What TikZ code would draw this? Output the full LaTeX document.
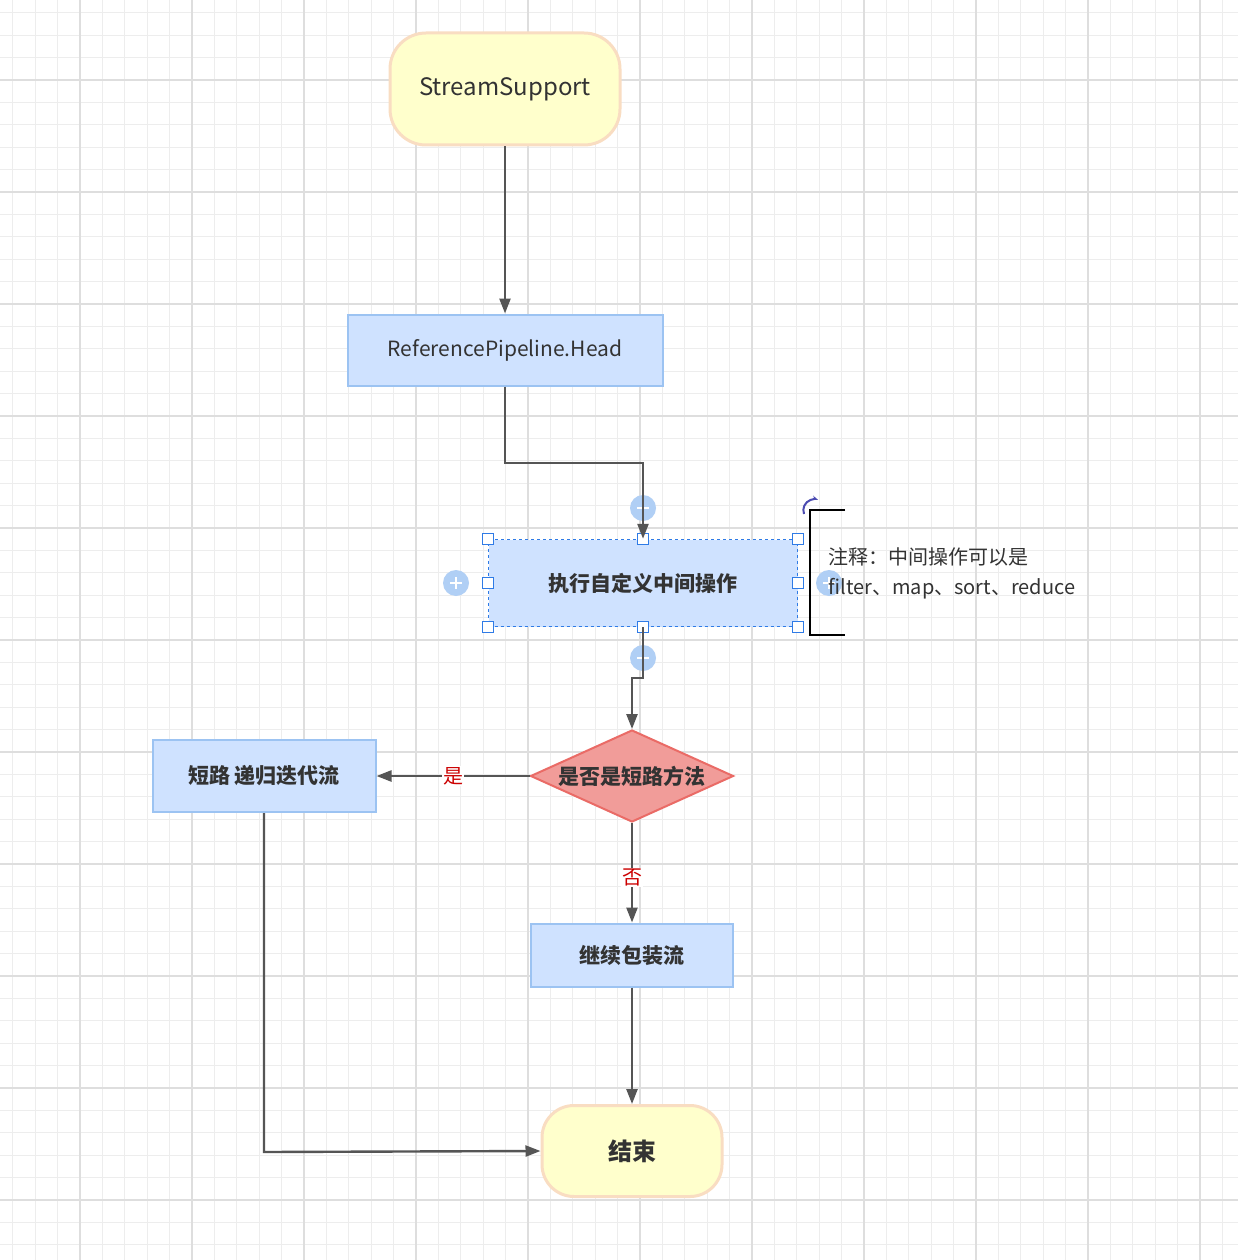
\documentclass[tikz,border=0pt]{standalone}
\usepackage{fontspec}
\setmainfont{Noto Sans CJK SC}
\usetikzlibrary{shapes.geometric,arrows.meta}
\definecolor{gridc}{HTML}{EDEDED}
\definecolor{gridm}{HTML}{DEDEDE}
\definecolor{yel}{HTML}{FFFFCC}
\definecolor{yelb}{HTML}{F9DDC2}
\definecolor{blu}{HTML}{CFE2FF}
\definecolor{blub}{HTML}{9CC3F2}
\definecolor{redf}{HTML}{F19C99}
\definecolor{redb}{HTML}{EA6B66}
\definecolor{edge}{HTML}{555555}
\definecolor{sel}{HTML}{2F7BE6}
\definecolor{txt}{HTML}{333333}
\begin{document}
\begin{tikzpicture}[x=1pt,y=-1pt,
 term/.style={draw=yelb,line width=3pt,fill=yel,rounded corners=36pt,text=txt,font=\fontsize{24}{28}\selectfont\bfseries},
 box/.style={draw=blub,line width=2pt,fill=blu,text=txt,font=\fontsize{21}{25}\selectfont\bfseries},
 conn/.style={draw=edge,line width=2.4pt,-{Triangle[length=15pt,width=11pt]}},
 handle/.style={draw=sel,fill=white,line width=1.2pt,minimum size=11pt,inner sep=0pt},
 plus/.style={circle,fill=blub!80,minimum size=26pt,inner sep=0pt,path picture={\draw[white,line width=1.5pt] (path picture bounding box.center) ++(-6pt,0) -- ++(12pt,0) (path picture bounding box.center) ++(0,-6pt) -- ++(0,12pt);}},
 lab/.style={fill=white,text=red!80!black,inner sep=1pt,font=\fontsize{20}{24}\selectfont}]
\useasboundingbox (0,0) rectangle (1238,1260);
\fill[white] (0,0) rectangle (1238,1260);
\foreach \i in {0,...,56}{\draw[gridc,line width=0.8pt] (\i*22.4-32,0) -- (\i*22.4-32,1260);}
\foreach \i in {0,...,57}{\draw[gridc,line width=0.8pt] (0,\i*22.4-32) -- (1238,\i*22.4-32);}
\foreach \i in {0,...,11}{\draw[gridm,line width=1.2pt] (\i*112+80,0) -- (\i*112+80,1260);
 \draw[gridm,line width=1.2pt] (0,\i*112+80) -- (1238,\i*112+80);}
\node[term,minimum width=230pt,minimum height=112pt,font=\fontsize{24}{28}\selectfont] (ss) at (505,89) {StreamSupport};
\node[box,minimum width=315pt,minimum height=71pt,font=\fontsize{21}{25}\selectfont] (head) at (505,350) {ReferencePipeline.Head};
\node[box,draw=sel,dashed,line width=1.5pt,minimum width=309pt,minimum height=87pt] (exec) at (643,583) {执行自定义中间操作};
\node[diamond,aspect=2.2,draw=redb,line width=2pt,fill=redf,minimum width=203pt,minimum height=92pt,inner sep=0pt,text=txt,font=\fontsize{21}{25}\selectfont\bfseries] (dec) at (632,776) {是否是短路方法};
\node[box,minimum width=223pt,minimum height=72pt] (short) at (264,776) {短路 递归迭代流};
\node[box,minimum width=202pt,minimum height=63pt] (cont) at (632,955) {继续包装流};
\node[term,minimum width=180pt,minimum height=91pt,rounded corners=32pt] (end) at (632,1151) {结束};
\foreach \p in {north west,north,north east,west,east,south west,south,south east}{\node[handle] at (exec.\p) {};}
\node[plus] (p1) at (643,508) {};
\node[plus] (p2) at (643,658) {};
\node[plus] (p3) at (456,583) {};
\node[plus] (p4) at (829,583) {};
\draw[black,line width=2.5pt] (845,510) -- (810,510) -- (810,635) -- (845,635);
\node[anchor=west,text=txt,font=\fontsize{20}{30}\selectfont,align=left] (note) at (825,573) {注释：中间操作可以是\\filter、map、sort、reduce};
\draw[gray!60!blue,line width=2pt,-{Stealth[length=6pt]}] (804,514) arc (160:290:11);
\draw[conn] (ss) -- (head);
\draw[conn] (head.south) -- (505,463) -- (643,463) -- (exec.north);
\draw[conn] (exec.south) -- (643,678) -- (632,678) -- (dec.north);
\draw[conn] (dec.west) -- node[lab]{是} (short.east);
\draw[conn] (dec.south) -- node[lab,pos=0.55]{否} (cont.north);
\draw[conn] (cont) -- (end);
\draw[conn] (short.south) -- (264,1152) -- (end.west);
\end{tikzpicture}
\end{document}
